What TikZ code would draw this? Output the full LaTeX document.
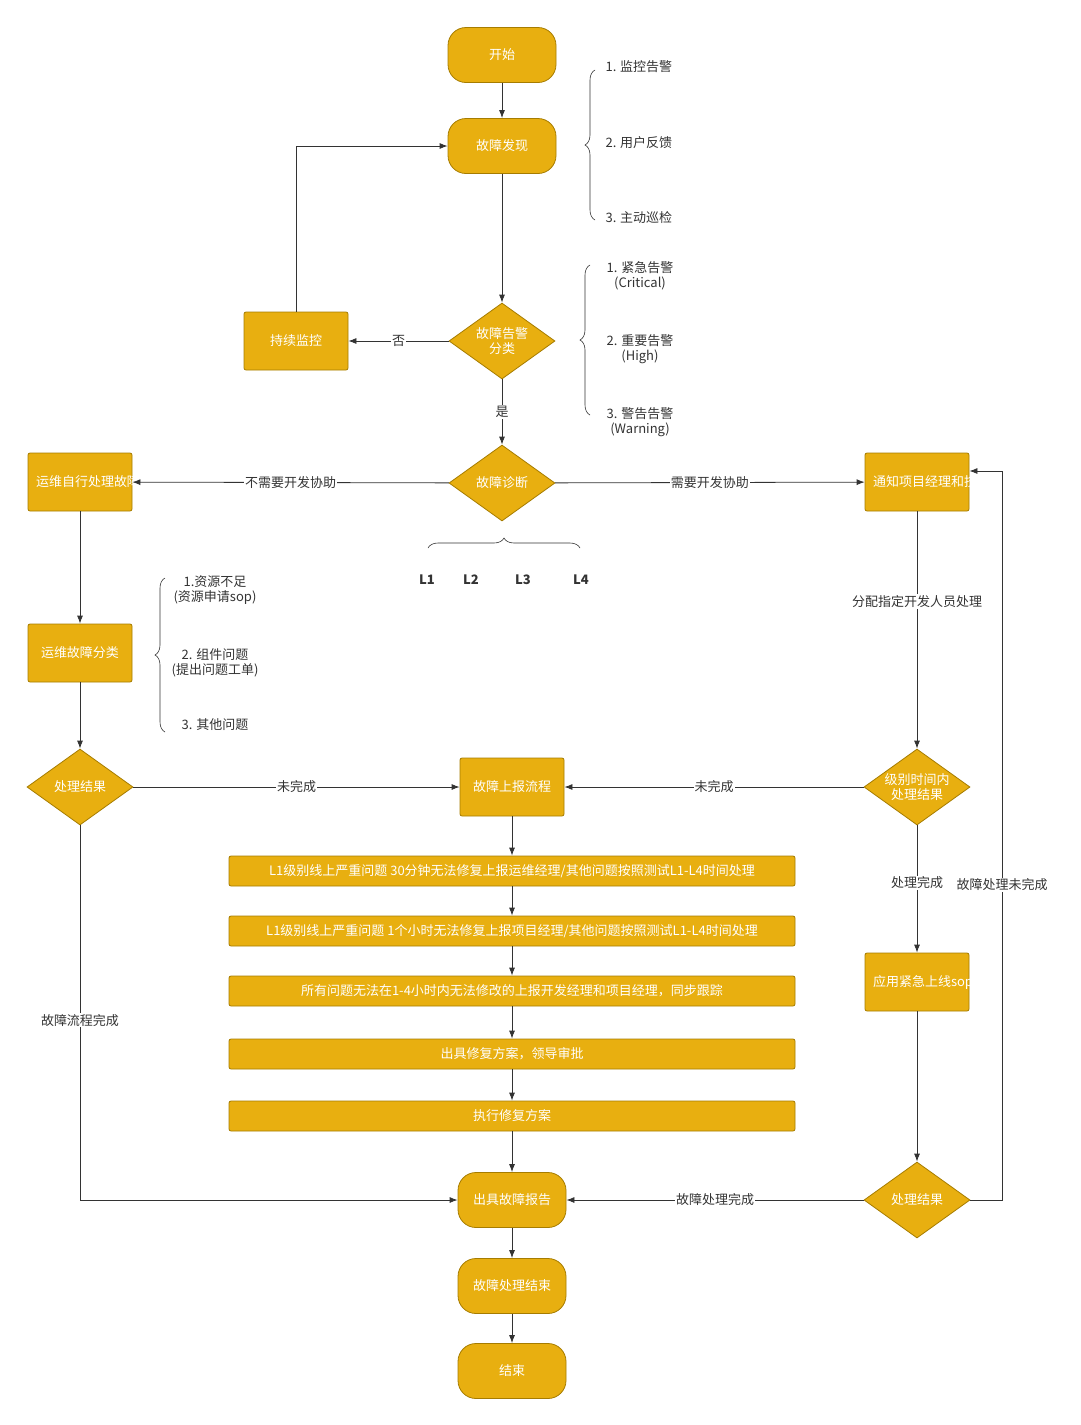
\documentclass[tikz,border=0pt]{standalone}
\usepackage{fontspec}
\setmainfont{Noto Sans CJK SC}
\usetikzlibrary{shapes.geometric,arrows.meta,decorations.pathreplacing}
\definecolor{gold}{HTML}{E8AF10}
\definecolor{edge}{HTML}{A67C00}
\definecolor{ln}{HTML}{333333}
\begin{document}
\begin{tikzpicture}[x=1pt,y=-1pt,
 every node/.style={font=\fontsize{13}{15}\selectfont},
 term/.style={draw=edge,fill=gold,text=white,rounded corners=18pt,minimum width=108pt,minimum height=55pt,line width=0.8pt},
 box/.style={draw=edge,fill=gold,text=white,rounded corners=2pt,minimum width=104pt,minimum height=58pt,text width=88pt,align=center,line width=0.8pt},
 dia/.style={draw=edge,fill=gold,text=white,diamond,aspect=1.4,minimum width=106pt,minimum height=76pt,inner sep=0pt,align=center,line width=0.8pt},
 bar/.style={draw=edge,fill=gold,text=white,rounded corners=2pt,minimum width=566pt,minimum height=30pt,line width=0.8pt},
 arr/.style={draw=ln,line width=0.8pt,-{Latex[length=8pt,width=6pt]}},
 lbl/.style={fill=white,text=ln,inner sep=1pt},
 txt/.style={text=ln,align=center},
 br/.style={draw=ln,line width=0.6pt,decorate,decoration={brace,amplitude=10pt}}]
\useasboundingbox (0,0) rectangle (1080,1425);
\node[term] (start) at (502,55) {开始};
\node[term] (find) at (502,146) {故障发现};
\node[dia] (cls) at (502,341) {故障告警\\分类};
\node[box] (mon) at (296,341) {持续监控};
\node[dia] (diag) at (502,483) {故障诊断};
\node[box] (self) at (80,482) {运维自行处理故障};
\node[box] (notify) at (917,482) {通知项目经理和技术经理};
\node[box] (ocls) at (80,653) {运维故障分类};
\node[dia] (res1) at (80,787) {处理结果};
\node[box] (up) at (512,787) {故障上报流程};
\node[dia] (lvl) at (917,787) {级别时间内\\处理结果};
\node[box] (sop) at (917,982) {应用紧急上线sop/变更管理sop};
\node[dia] (res2) at (917,1200) {处理结果};
\node[term] (rep) at (512,1200) {出具故障报告};
\node[term] (endp) at (512,1286) {故障处理结束};
\node[term] (fin) at (512,1371) {结束};
\node[bar] (b1) at (512,871) {L1级别线上严重问题 30分钟无法修复上报运维经理/其他问题按照测试L1-L4时间处理};
\node[bar] (b2) at (512,931) {L1级别线上严重问题 1个小时无法修复上报项目经理/其他问题按照测试L1-L4时间处理};
\node[bar] (b3) at (512,991) {所有问题无法在1-4小时内无法修改的上报开发经理和项目经理，同步跟踪};
\node[bar] (b4) at (512,1054) {出具修复方案，领导审批};
\node[bar] (b5) at (512,1116) {执行修复方案};
\draw[arr] (start)--(find);
\draw[arr] (find)--(cls);
\draw[arr] (cls)--node[lbl]{否}(mon);
\draw[arr] (mon.north)|-(find.west);
\draw[arr] (cls)--node[lbl]{是}(diag);
\draw[arr] (diag)--node[lbl]{不需要开发协助}(self);
\draw[arr] (diag)--node[lbl]{需要开发协助}(notify);
\draw[arr] (self)--(ocls);
\draw[arr] (ocls)--(res1);
\draw[arr] (res1)--node[lbl]{未完成}(up);
\draw[arr] (notify)--node[lbl,pos=0.38]{分配指定开发人员处理}(lvl);
\draw[arr] (lvl)--node[lbl]{未完成}(up);
\draw[arr] (lvl)--node[lbl,pos=0.45]{处理完成}(sop);
\draw[arr] (sop)--(res2);
\coordinate (rr) at (1002,1200);
\coordinate (rt) at (1002,471);
\draw[arr] (res2.east)--(rr)--(rt)--(notify.east|-rt);
\node[lbl] at (1002,885) {故障处理未完成};
\draw[arr] (res2)--node[lbl]{故障处理完成}(rep);
\draw[arr] (res1.south)--node[lbl,pos=0.52]{故障流程完成}(res1.south|-rep.west)--(rep.west);
\draw[arr] (up)--(b1);
\draw[arr] (b1)--(b2);
\draw[arr] (b2)--(b3);
\draw[arr] (b3)--(b4);
\draw[arr] (b4)--(b5);
\draw[arr] (b5)--(rep);
\draw[arr] (rep)--(endp);
\draw[arr] (endp)--(fin);
% braces
\draw[br] (595,220)--(595,70);
\node[txt,anchor=west] at (602,67) {1. 监控告警};
\node[txt,anchor=west] at (602,143) {2. 用户反馈};
\node[txt,anchor=west] at (602,218) {3. 主动巡检};
\draw[br] (590,415)--(590,265);
\node[txt] at (640,276) {1. 紧急告警\\(Critical)};
\node[txt] at (640,349) {2. 重要告警\\(High)};
\node[txt] at (640,422) {3. 警告告警\\(Warning)};
\draw[br] (428,548)--(580,548);
\node[txt,font=\fontsize{13}{15}\selectfont\bfseries] at (427,580) {L1};
\node[txt,font=\fontsize{13}{15}\selectfont\bfseries] at (471,580) {L2};
\node[txt,font=\fontsize{13}{15}\selectfont\bfseries] at (523,580) {L3};
\node[txt,font=\fontsize{13}{15}\selectfont\bfseries] at (581,580) {L4};
\draw[br] (165,732)--(165,578);
\node[txt] at (215,590) {1.资源不足\\(资源申请sop)};
\node[txt] at (215,663) {2. 组件问题\\(提出问题工单)};
\node[txt] at (215,725) {3. 其他问题};
\end{tikzpicture}
\end{document}
